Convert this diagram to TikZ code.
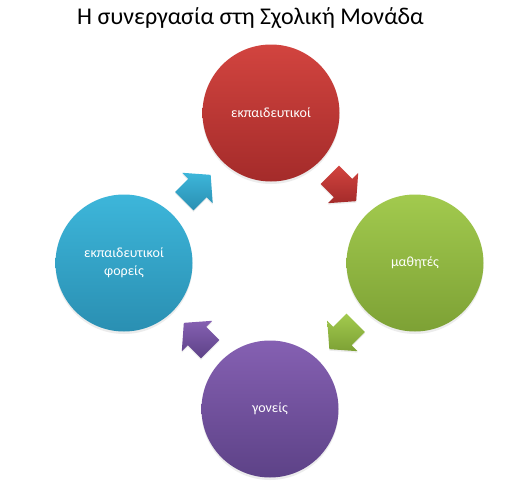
\documentclass[tikz,border=0pt]{standalone}
\usepackage{fontspec}
\setmainfont{Carlito}
\usetikzlibrary{shadows,calc}
\definecolor{redT}{HTML}{D2443F}
\definecolor{redB}{HTML}{A42B2A}
\definecolor{grnT}{HTML}{A2CA4E}
\definecolor{grnB}{HTML}{7DA135}
\definecolor{purT}{HTML}{8560B2}
\definecolor{purB}{HTML}{5D4287}
\definecolor{cyaT}{HTML}{3DB6DA}
\definecolor{cyaB}{HTML}{2A8FB2}
\begin{document}
\begin{tikzpicture}[x=1pt,y=-1pt,
  bubble/.style={circle, minimum size=137pt, inner sep=0pt, align=center,
    text=white, font=\fontsize{14}{18}\selectfont,
    drop shadow={opacity=0.15, shadow xshift=0pt, shadow yshift=-2.5pt}},
  cyclearrow/.style={drop shadow={opacity=0.15, shadow xshift=0pt, shadow yshift=-1.5pt}},
  titletext/.style={font=\fontsize{24}{28}\selectfont, text=black, inner sep=0pt}
]
\useasboundingbox[fill=white] (0,0) rectangle (531,488);
\node[titletext] (title) at (250.5,18) {Η συνεργασία στη Σχολική Μονάδα};

\node[bubble, top color=redT, bottom color=redB] (teach) at (271,113) {εκπαιδευτικοί};
\node[bubble, top color=grnT, bottom color=grnB] (stud) at (415,263) {μαθητές};
\node[bubble, top color=purT, bottom color=purB] (par) at (270,409) {γονείς};
\node[bubble, top color=cyaT, bottom color=cyaB] (org) at (124,263) {εκπαιδευτικοί\\φορείς};

\coordinate (m1) at ($(teach)!0.5!(stud)$);
\coordinate (m2) at ($(stud)!0.5!(par)$);
\coordinate (m3) at ($(par)!0.5!(org)$);
\coordinate (m4) at ($(org)!0.5!(teach)$);

\def\blockarrow{(-18.6,-13) -- (0,-13) -- (0,-21.5) -- (18.6,0) -- (0,21.5) -- (0,13) -- (-18.6,13) -- cycle}
\path[cyclearrow, shift={(m1)}, rotate=-45, top color=redT, bottom color=redB] \blockarrow;
\path[cyclearrow, shift={(m2)}, rotate=-135, top color=grnT, bottom color=grnB] \blockarrow;
\path[cyclearrow, shift={(m3)}, rotate=135, top color=purT, bottom color=purB] \blockarrow;
\path[cyclearrow, shift={(m4)}, rotate=45, top color=cyaT, bottom color=cyaB] \blockarrow;
\end{tikzpicture}
\end{document}
